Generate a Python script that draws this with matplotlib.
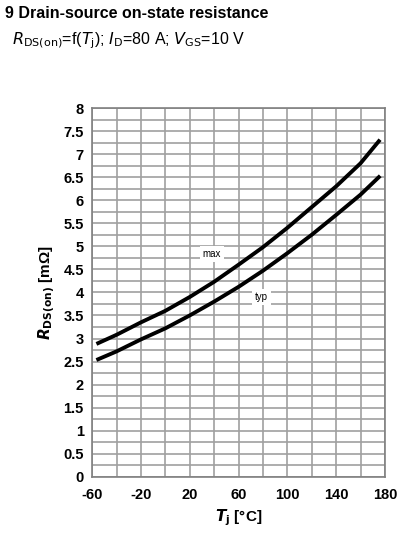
import matplotlib
matplotlib.use("Agg")
import matplotlib.pyplot as plt
from matplotlib.ticker import MultipleLocator

tj = [-55, -40, -20, 0, 20, 40, 60, 80, 100, 120, 140, 160, 175]
r_max = [2.9, 3.08, 3.35, 3.6, 3.9, 4.23, 4.6, 4.98, 5.4, 5.85, 6.3, 6.8, 7.28]
r_typ = [2.55, 2.72, 2.98, 3.22, 3.5, 3.8, 4.12, 4.47, 4.85, 5.25, 5.68, 6.12, 6.5]

plt.rcParams['font.family'] = ['Liberation Sans', 'DejaVu Sans']
plt.rcParams['axes.unicode_minus'] = False
fig = plt.figure(figsize=(4.13, 5.40), dpi=100)
ax = fig.add_axes([0.223, 0.117, 0.709, 0.683])

ax.plot(tj, r_max, color='black', lw=2.8, solid_joinstyle='round')
ax.plot(tj, r_typ, color='black', lw=2.8, solid_joinstyle='round')

ax.set_xlim(-60, 180)
ax.set_ylim(0, 8)
ax.set_xticks(range(-60, 181, 40))
ax.xaxis.set_minor_locator(MultipleLocator(20))
ax.yaxis.set_major_locator(MultipleLocator(0.5))
ax.yaxis.set_minor_locator(MultipleLocator(0.25))
ax.set_yticklabels([f"{v:g}" for v in ax.get_yticks()])
ax.grid(which='both', color='#a0a0a0', lw=1.2)
ax.tick_params(which='both', length=0, labelsize=10.5)
ax.tick_params(axis='x', pad=8)
ax.tick_params(axis='y', pad=6)
for lab in ax.get_xticklabels() + ax.get_yticklabels():
    lab.set_fontweight('bold')
for s in ax.spines.values():
    s.set_color('#808080')
    s.set_linewidth(1.2)

bb = dict(facecolor='white', edgecolor='none', pad=2)
ax.text(38, 4.83, 'max', fontsize=7, ha='center', va='center', bbox=bb)
ax.text(79, 3.9, 'typ', fontsize=7, ha='center', va='center', bbox=bb)

ax.set_xlabel(r'$\mathbfit{T}_\mathbf{j}$ [°C]', fontsize=11, fontweight='bold')
ax.set_ylabel(r'$\mathbfit{R}_\mathbf{DS(on)}$ [mΩ]', fontsize=11, fontweight='bold')

fig.text(0.012, 0.975, '9 Drain-source on-state resistance', fontsize=11.5,
         fontweight='bold', va='center')
fig.text(0.03, 0.925, r'$R_{\mathrm{DS(on)}}$=f($T_{\mathrm{j}}$); $I_{\mathrm{D}}$=80 A; $V_{\mathrm{GS}}$=10 V',
         fontsize=11.5, va='center')

fig.savefig('out.png', dpi=100)
